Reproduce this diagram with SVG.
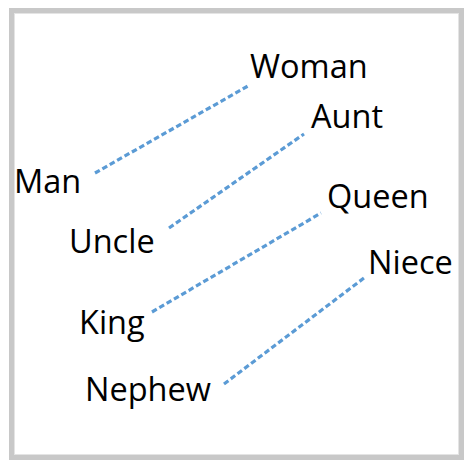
<svg xmlns="http://www.w3.org/2000/svg" width="474" height="472" viewBox="0 0 474 472">
<style>
.t{font-family:"Open Sans","Liberation Sans",sans-serif;font-size:32.5px;fill:#000}
.c{stroke:#5b9bd5;stroke-width:3.2;stroke-dasharray:5.5 3;fill:none}
</style>
<rect x="0" y="0" width="474" height="472" fill="#fff"/>
<rect x="11.5" y="10.5" width="450" height="447" fill="#fff" stroke="#c8c8c8" stroke-width="5"/>
<rect x="14.5" y="13.5" width="444" height="441" fill="none" stroke="#e4e4e4" stroke-width="1"/>
<g id="connectors">
<line class="c" x1="95" y1="173" x2="248" y2="86"/>
<line class="c" x1="169" y1="228" x2="304" y2="134"/>
<line class="c" x1="152" y1="312" x2="321" y2="213"/>
<line class="c" x1="224" y1="384" x2="364" y2="278"/>
</g>
<g id="woman"><text class="t" x="250" y="78">Woman</text></g>
<g id="aunt"><text class="t" x="311" y="128">Aunt</text></g>
<g id="man"><text class="t" x="14" y="193">Man</text></g>
<g id="uncle"><text class="t" x="69" y="253">Uncle</text></g>
<g id="queen"><text class="t" x="327" y="208">Queen</text></g>
<g id="niece"><text class="t" x="368" y="274">Niece</text></g>
<g id="king"><text class="t" x="79" y="334">King</text></g>
<g id="nephew"><text class="t" x="85" y="401">Nephew</text></g>
</svg>
